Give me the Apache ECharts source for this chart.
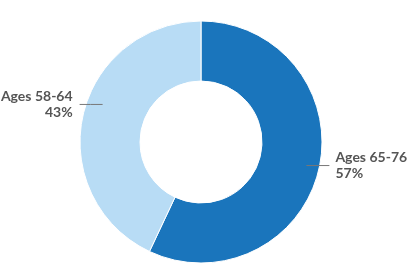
<!DOCTYPE html>
<html><head><meta charset="utf-8">
<script src="https://cdn.jsdelivr.net/npm/echarts@6/dist/echarts.min.js"></script>
<style>html,body{margin:0;padding:0;background:#fff}#c{width:416px;height:274px}</style>
</head><body><div id="c"></div>
<script>
const categories = ["Ages 65-76", "Ages 58-64"];
const values = [57, 43];
const colors = ["#1a75bc", "#b8dcf5"];
const chart = echarts.init(document.getElementById('c'));
const data = categories.map((c, i) => ({name: c, value: values[i], itemStyle: {color: colors[i]}}));
chart.setOption({
  animation: false,
  series: [{
    type: 'pie',
    center: [201, 142],
    radius: [61, 121],
    startAngle: 90,
    clockwise: true,
    data: data,
    itemStyle: {borderColor: '#fff', borderWidth: 1},
    label: {show: false},
    labelLine: {show: false},
    emphasis: {disabled: true},
    z: 1
  }, {
    type: 'pie',
    center: [201, 142],
    radius: [0, 108],
    startAngle: 90,
    clockwise: true,
    silent: true,
    data: categories.map((c, i) => ({name: c, value: values[i]})),
    itemStyle: {color: 'rgba(0,0,0,0)'},
    label: {
      formatter: p => p.name + '\n' + p.value + '%',
      color: '#555', fontWeight: 'bold', fontSize: 14,
      fontFamily: 'Lato', lineHeight: 16, distanceToLabelLine: 6,
      overflow: 'none'
    },
    labelLine: {length: 0, length2: 23, lineStyle: {color: '#777', width: 1}},
    labelLayout: p => {
      if (p.dataIndex !== 1) return {};
      const r = p.labelRect, dx = 6, dy = -14;
      const y = r.y + r.height / 2 + dy;
      const x0 = r.x + r.width + dx + 7;
      return {dx: dx, dy: dy, labelLinePoints: [[x0 + 23, y], [x0 + 11, y], [x0, y]]};
    },
    emphasis: {disabled: true},
    z: 2
  }]
});
</script></body></html>
